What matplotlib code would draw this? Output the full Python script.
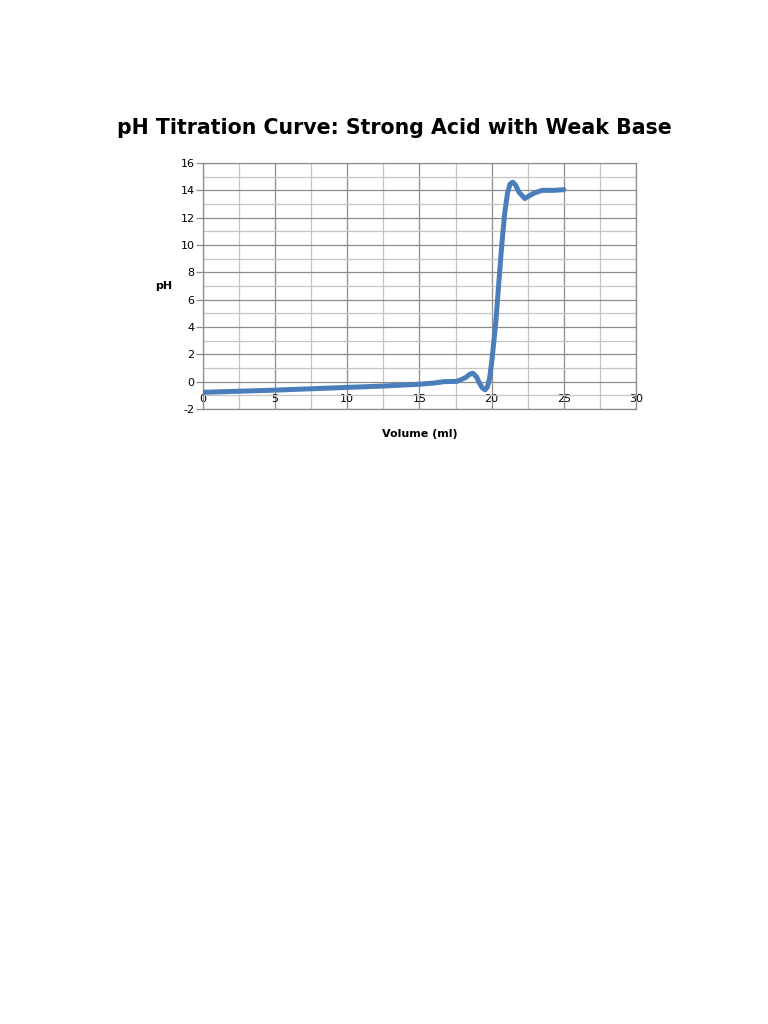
import matplotlib.pyplot as plt
from matplotlib.ticker import MultipleLocator

plt.rcParams["axes.unicode_minus"] = False

volume = [0, 2.5, 5, 7.5, 10, 12.5, 15, 16, 16.7, 17.6, 18.2, 18.45, 18.7, 18.95,
          19.15, 19.35, 19.55, 19.7, 19.85, 20.0, 20.15, 20.3, 20.5, 20.7, 20.9,
          21.1, 21.27, 21.45, 21.65, 21.9, 22.3, 22.9, 23.5, 24.3, 25]
ph = [-0.78, -0.7, -0.62, -0.52, -0.42, -0.32, -0.19, -0.1, 0.0, 0.02, 0.3, 0.52,
      0.62, 0.35, -0.1, -0.45, -0.6, -0.4, 0.2, 1.4, 2.9, 4.5, 7.3, 10.0, 12.3,
      13.8, 14.45, 14.6, 14.4, 13.85, 13.4, 13.78, 14.0, 14.0, 14.05]

x_ticks = [0, 5, 10, 15, 20, 25, 30]
y_ticks = [-2, 0, 2, 4, 6, 8, 10, 12, 14, 16]

fig = plt.figure(figsize=(7.68, 10.24), dpi=100)
ax = fig.add_axes([0.2643, 0.6006, 0.5638, 0.2402])

ax.plot(volume, ph, color="#4a7ebb", linewidth=3.6, solid_joinstyle="round",
        solid_capstyle="round", zorder=3)

ax.set_xlim(0, 30)
ax.set_ylim(-2, 16)
ax.set_xticks(x_ticks)
ax.set_yticks(y_ticks)
ax.xaxis.set_minor_locator(MultipleLocator(2.5))
ax.yaxis.set_minor_locator(MultipleLocator(1))

# gridlines: darker majors, lighter minors
ax.grid(which="major", color="#8c8c8c", linewidth=0.9)
ax.grid(which="minor", color="#c4c4c4", linewidth=0.9)
ax.set_axisbelow(True)

for s in ax.spines.values():
    s.set_color("#8c8c8c")
    s.set_linewidth(0.9)

ax.tick_params(axis="y", which="major", length=5, width=0.9, color="#8c8c8c",
               labelsize=8, pad=1)
# x labels sit just under the zero line, like Excel's crossing axis
ax.tick_params(axis="x", which="major", length=0, labelsize=8, pad=-11)
ax.tick_params(which="minor", length=0)

ax.set_xlabel("Volume (ml)", fontsize=8, fontweight="bold", labelpad=11)
ax.set_ylabel("pH", fontsize=8, fontweight="bold", rotation=0, labelpad=12, va="center")

fig.text(0.513, 0.875, "pH Titration Curve: Strong Acid with Weak Base",
         ha="center", va="center", fontsize=14.8, fontweight="bold")

fig.savefig("out.png", dpi=100)
